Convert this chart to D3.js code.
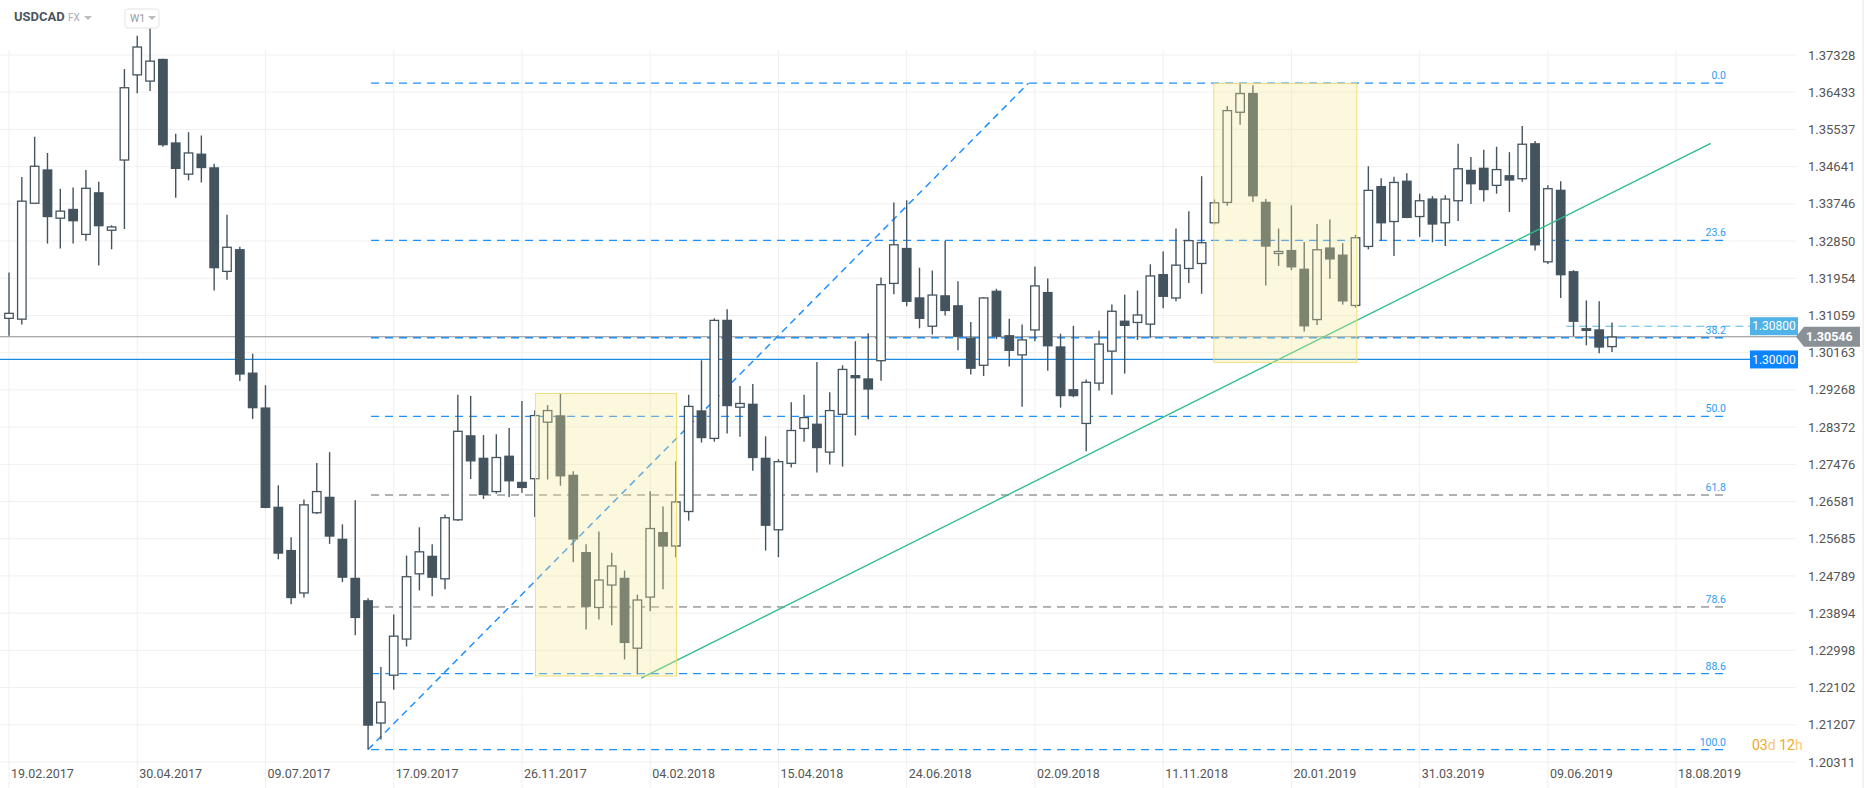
<!DOCTYPE html>
<html><head><meta charset="utf-8">
<script src="https://cdn.jsdelivr.net/npm/d3@7/dist/d3.min.js"></script>
<style>body{margin:0;background:#fff;font-family:Roboto,"Open Sans",sans-serif}</style>
</head><body><svg id="c" width="1866" height="788"></svg>
<script>
const opens=[1.3099,1.3097,1.3376,1.3456,1.3340,1.3361,1.3301,1.3401,1.3311,1.3480,1.3685,1.3670,1.3722,1.3521,1.3446,1.3494,1.3461,1.3212,1.3264,1.2967,1.2883,1.2644,1.2540,1.2438,1.2631,1.2668,1.2567,1.2473,1.2419,1.2125,1.2240,1.2327,1.2484,1.2526,1.2472,1.2614,1.2816,1.2762,1.2682,1.2767,1.2704,1.2713,1.2849,1.2864,1.2721,1.2535,1.2403,1.2457,1.2473,1.2305,1.2428,1.2583,1.2551,1.2634,1.2876,1.2810,1.3094,1.2885,1.2892,1.2762,1.2590,1.2750,1.2834,1.2844,1.2777,1.2868,1.2961,1.2953,1.2997,1.3183,1.3267,1.3148,1.3080,1.3153,1.3129,1.3051,1.2986,1.3164,1.3057,1.3011,1.3071,1.3161,1.3030,1.2927,1.2846,1.2943,1.3020,1.3092,1.3089,1.3085,1.3204,1.3148,1.3219,1.3231,1.3329,1.3378,1.3595,1.3640,1.3378,1.3255,1.3262,1.3217,1.3096,1.3268,1.3251,1.3130,1.3272,1.3416,1.3332,1.3429,1.3344,1.3386,1.3329,1.3382,1.3455,1.3460,1.3419,1.3442,1.3435,1.3519,1.3235,1.3407,1.3211,1.3074,1.3071,1.3031];
const highs=[1.3209,1.3439,1.3536,1.3497,1.3411,1.3414,1.3456,1.3428,1.3323,1.3699,1.3779,1.3797,1.3724,1.3543,1.3547,1.3539,1.3471,1.3348,1.3271,1.3014,1.2938,1.2697,1.2572,1.2663,1.2751,1.2777,1.2603,1.2661,1.2425,1.2260,1.2386,1.2528,1.2596,1.2555,1.2627,1.2915,1.2912,1.2818,1.2820,1.2835,1.2900,1.2878,1.2890,1.2917,1.2731,1.2555,1.2586,1.2535,1.2492,1.2434,1.2683,1.2646,1.2755,1.2915,1.2998,1.3099,1.3121,1.2936,1.2941,1.2815,1.2760,1.2897,1.2915,1.2994,1.2921,1.2986,1.3044,1.3063,1.3197,1.3378,1.3383,1.3221,1.3214,1.3286,1.3188,1.3090,1.3150,1.3170,1.3098,1.3084,1.3224,1.3195,1.3062,1.3081,1.2952,1.3069,1.3132,1.3156,1.3166,1.3229,1.3260,1.3315,1.3357,1.3441,1.3385,1.3610,1.3665,1.3660,1.3386,1.3315,1.3371,1.3283,1.3326,1.3337,1.3280,1.3300,1.3465,1.3436,1.3440,1.3448,1.3399,1.3393,1.3395,1.3519,1.3487,1.3505,1.3512,1.3499,1.3562,1.3526,1.3419,1.3429,1.3215,1.3142,1.3140,1.3089];
const lows=[1.3057,1.3084,1.3376,1.3279,1.3267,1.3279,1.3286,1.3226,1.3265,1.3314,1.3641,1.3646,1.3512,1.3389,1.3431,1.3426,1.3166,1.3192,1.2948,1.2857,1.2642,1.2519,1.2411,1.2427,1.2628,1.2556,1.2464,1.2336,1.2061,1.2085,1.2205,1.2309,1.2444,1.2430,1.2447,1.2611,1.2712,1.2664,1.2677,1.2669,1.2679,1.2621,1.2711,1.2696,1.2512,1.2350,1.2374,1.2360,1.2278,1.2242,1.2394,1.2447,1.2524,1.2612,1.2800,1.2802,1.2822,1.2814,1.2732,1.2540,1.2524,1.2740,1.2802,1.2728,1.2747,1.2742,1.2817,1.2856,1.2949,1.3157,1.3128,1.3075,1.3060,1.3106,1.3022,1.2964,1.2960,1.3049,1.2983,1.2886,1.3044,1.2973,1.2884,1.2909,1.2779,1.2925,1.2915,1.2966,1.3047,1.3052,1.3123,1.3140,1.3184,1.3158,1.3325,1.3370,1.3565,1.3379,1.3178,1.3225,1.3215,1.3067,1.3083,1.3194,1.3132,1.3125,1.3265,1.3286,1.3249,1.3340,1.3295,1.3282,1.3273,1.3333,1.3374,1.3380,1.3399,1.3355,1.3428,1.3262,1.3230,1.3148,1.3056,1.3034,1.3015,1.3018];
const closes=[1.3111,1.3381,1.3465,1.3344,1.3357,1.3334,1.3412,1.3322,1.3319,1.3654,1.3752,1.3718,1.3517,1.3460,1.3497,1.3462,1.3221,1.3270,1.2965,1.2884,1.2644,1.2534,1.2427,1.2650,1.2682,1.2575,1.2476,1.2379,1.2120,1.2175,1.2334,1.2477,1.2537,1.2476,1.2619,1.2827,1.2756,1.2675,1.2764,1.2708,1.2692,1.2865,1.2877,1.2720,1.2568,1.2406,1.2469,1.2503,1.2319,1.2421,1.2593,1.2551,1.2657,1.2887,1.2812,1.3094,1.2889,1.2894,1.2764,1.2601,1.2754,1.2829,1.2860,1.2788,1.2877,1.2976,1.2956,1.2929,1.3180,1.3276,1.3140,1.3099,1.3155,1.3118,1.3056,1.2979,1.3148,1.3056,1.3022,1.3047,1.3177,1.3033,1.2913,1.2913,1.2945,1.3037,1.3116,1.3082,1.3107,1.3201,1.3152,1.3227,1.3286,1.3281,1.3377,1.3599,1.3640,1.3394,1.3273,1.3260,1.3223,1.3081,1.3264,1.3242,1.3141,1.3293,1.3407,1.3329,1.3426,1.3342,1.3382,1.3326,1.3386,1.3459,1.3423,1.3409,1.3457,1.3432,1.3518,1.3276,1.3411,1.3204,1.3092,1.3070,1.3030,1.3054];
const yTicks=[1.37328,1.36433,1.35537,1.34641,1.33746,1.32850,1.31954,1.31059,1.30163,1.29268,1.28372,1.27476,1.26581,1.25685,1.24789,1.23894,1.22998,1.22102,1.21207,1.20311];
const dateLabels=["19.02.2017","30.04.2017","09.07.2017","17.09.2017","26.11.2017","04.02.2018","15.04.2018","24.06.2018","02.09.2018","11.11.2018","20.01.2019","31.03.2019","09.06.2019","18.08.2019"];
const fibLevels=["0.0","23.6","38.2","50.0","61.8","78.6","88.6","100.0"];
const fibHigh=1.3665, fibLow=1.2061, fibStartIdx=28;
const currentPrice=1.30546, levelBlue=1.30000, levelLight=1.30800;
const trendIdx=[49.3,132.7], trendVal=[1.2233,1.3520];
const fibDiagIdx=[28,79.5];
const boxes=[{i0:41.05,i1:52.05,top:1.2918,bot:1.2238},{i0:93.95,i1:105.1,top:1.3664,bot:1.2993}];

const svg=d3.select("#c");
const x=d3.scaleLinear().domain([0,125]).range([9,1612]);
const y=d3.scaleLinear().domain([1.20311,1.37328]).range([762,55]);
const R=1746;
const g=svg.append("g");
g.selectAll(".hg").data(yTicks).join("line").attr("x1",0).attr("x2",R+50).attr("y1",d=>y(d)).attr("y2",d=>y(d)).attr("stroke","#f0f0f0");
g.selectAll(".vg").data(dateLabels).join("line").attr("x1",(d,i)=>x(i*10)).attr("x2",(d,i)=>x(i*10)).attr("y1",50).attr("y2",788).attr("stroke","#f0f0f0");
svg.append("line").attr("x1",1863).attr("x2",1863).attr("y1",0).attr("y2",788).attr("stroke","#e6e6e6");
svg.selectAll(".yl").data(yTicks).join("text").attr("x",1808).attr("y",d=>y(d)).attr("dy","0.35em").attr("font-size",13).attr("fill","#555").text(d=>d.toFixed(5));
svg.selectAll(".xl").data(dateLabels).join("text").attr("x",(d,i)=>x(i*10)+2).attr("y",778).attr("font-size",12.5).attr("fill","#555").text(d=>d);
svg.append("line").attr("x1",0).attr("x2",1800).attr("y1",y(currentPrice)).attr("y2",y(currentPrice)).attr("stroke","#8a8f93").attr("stroke-width",1);
svg.append("line").attr("x1",0).attr("x2",1752).attr("y1",y(levelBlue)).attr("y2",y(levelBlue)).attr("stroke","#1a8be0").attr("stroke-width",1.2);
svg.append("line").attr("x1",x(123)-20).attr("x2",1752).attr("y1",y(levelLight)).attr("y2",y(levelLight)).attr("stroke","#5ab4e5").attr("stroke-dasharray","8,5");
const fibVals=fibLevels.map(l=>fibHigh-(+l/100)*(fibHigh-fibLow));
svg.selectAll(".fl").data(fibVals).join("line").attr("x1",x(fibStartIdx)+3).attr("x2",1728).attr("y1",d=>y(d)).attr("y2",d=>y(d))
 .attr("stroke",(d,i)=>(fibLevels[i]=="61.8"||fibLevels[i]=="78.6")?"#555":"#1e90ff").attr("stroke-width",(d,i)=>(fibLevels[i]=="61.8"||fibLevels[i]=="78.6")?0.9:1.3).attr("stroke-dasharray","8,6");
svg.selectAll(".ft").data(fibVals).join("text").attr("x",1726).attr("y",d=>y(d)-4).attr("text-anchor","end").attr("font-size",10.5).attr("fill","#2a9df4").text((d,i)=>fibLevels[i]);
svg.append("line").attr("x1",x(fibDiagIdx[0])).attr("y1",y(fibLow)).attr("x2",x(fibDiagIdx[1])).attr("y2",y(fibHigh)).attr("stroke","#1e90ff").attr("stroke-width",1.5).attr("stroke-dasharray","7,5");
const idx=d3.range(opens.length);
const bw=8.5;
const cg=svg.append("g");
cg.selectAll(".w").data(idx).join("line").attr("x1",i=>x(i)).attr("x2",i=>x(i)).attr("y1",i=>y(highs[i])).attr("y2",i=>y(lows[i])).attr("stroke","#44545f").attr("stroke-width",1.4);
cg.selectAll(".b").data(idx).join("rect").attr("x",i=>x(i)-bw/2).attr("width",bw)
 .attr("y",i=>y(Math.max(opens[i],closes[i]))).attr("height",i=>Math.max(1.5,Math.abs(y(opens[i])-y(closes[i]))))
 .attr("fill",i=>closes[i]>=opens[i]?"#fff":"#44545f").attr("stroke","#44545f").attr("stroke-width",1.3);
svg.append("line").attr("x1",x(trendIdx[0])).attr("y1",y(trendVal[0])).attr("x2",x(trendIdx[1])).attr("y2",y(trendVal[1])).attr("stroke","#2bbd85").attr("stroke-width",1.3);
svg.selectAll(".bx").data(boxes).join("rect").attr("x",d=>x(d.i0)).attr("width",d=>x(d.i1)-x(d.i0)).attr("y",d=>y(d.top)).attr("height",d=>y(d.bot)-y(d.top))
 .attr("fill","rgba(245,232,150,0.32)").attr("stroke","rgba(240,220,110,0.9)").attr("stroke-width",1);
function tag(v,txt,bg,w,x0){svg.append("rect").attr("x",x0).attr("y",y(v)-9).attr("width",w).attr("height",18).attr("fill",bg);
 svg.append("text").attr("x",x0+w/2).attr("y",y(v)).attr("dy","0.35em").attr("text-anchor","middle").attr("font-size",12).attr("fill","#fff").text(txt);}
tag(levelLight,"1.30800","#4fb3e8",48,1750);
tag(levelBlue,"1.30000","#0a84ff",48,1750);
svg.append("path").attr("d",`M1796,${y(currentPrice)} L1804,${y(currentPrice)-10} L1860,${y(currentPrice)-10} L1860,${y(currentPrice)+10} L1804,${y(currentPrice)+10} Z`).attr("fill","#8a9196");
svg.append("text").attr("x",1806).attr("y",y(currentPrice)).attr("dy","0.35em").attr("font-size",12.5).attr("font-weight","bold").attr("fill","#fff").text(currentPrice.toFixed(5));
const cd=svg.append("text").attr("x",1752).attr("y",750).attr("font-size",14).attr("fill","#f5a623");
cd.append("tspan").text("03");cd.append("tspan").attr("fill","#f8c777").text("d ");cd.append("tspan").text("12");cd.append("tspan").attr("fill","#f8c777").text("h");
svg.append("text").attr("x",14).attr("y",21).attr("font-size",13).attr("font-weight","bold").attr("fill","#4a5560").text("USDCAD");
svg.append("text").attr("x",68).attr("y",21).attr("font-size",10).attr("fill","#aab").text("FX");
svg.append("path").attr("d","M84,16 L92,16 L88,20 Z").attr("fill","#bbb");
svg.append("rect").attr("x",125).attr("y",9).attr("width",34).attr("height",19).attr("rx",3).attr("fill","#fff").attr("stroke","#e3e3e3");
svg.append("text").attr("x",130).attr("y",22).attr("font-size",10.5).attr("fill","#999").text("W1");
svg.append("path").attr("d","M148,16 L156,16 L152,20 Z").attr("fill","#bbb");
</script></body></html>
